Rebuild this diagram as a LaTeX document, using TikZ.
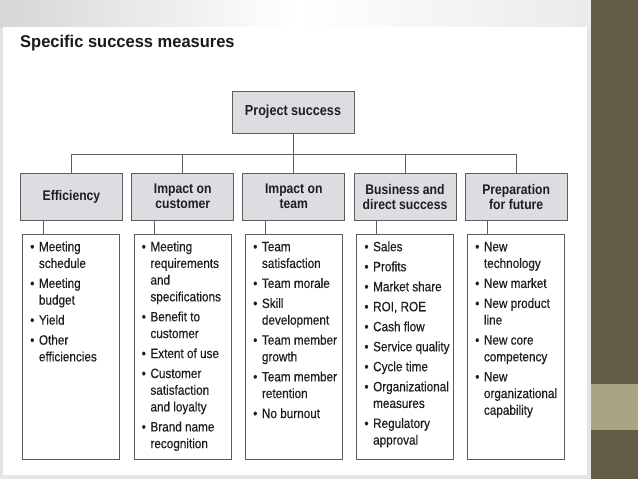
\documentclass[tikz,border=0pt]{standalone}
\usepackage{fontspec}
\setmainfont{Liberation Sans}
\newfontfamily\bodyfont[FakeStretch=0.87,FakeBold=0.35]{Liberation Sans}
\newfontfamily\hdrfont[FakeStretch=0.87]{Liberation Sans}
\newfontfamily\titlefont[FakeStretch=0.97]{Liberation Sans}
\usetikzlibrary{calc}
\definecolor{bandolive}{HTML}{635C46}
\definecolor{bandlight}{HTML}{A9A483}
\definecolor{boxfill}{HTML}{DCDDE1}
\definecolor{linegray}{HTML}{5E5E5E}
\definecolor{txt}{HTML}{1E1E1E}
\begin{document}
\begin{tikzpicture}[x=1pt,y=-1pt,
  hdr/.style={draw=linegray, line width=0.9pt, fill=boxfill, minimum width=102pt, minimum height=47pt, inner sep=0pt, align=center, text=txt, font=\hdrfont\bfseries\fontsize{14}{15}\selectfont},
  detbox/.style={draw=linegray, line width=0.9pt, fill=white, minimum width=97pt, minimum height=224.3pt, inner sep=0pt},
  dettext/.style={anchor=base west, inner sep=0pt, text=txt, font=\bodyfont\fontsize{13.5}{16.7}\selectfont},
  conn/.style={draw=linegray, line width=0.9pt}]
\useasboundingbox (0,0) rectangle (638,479);
% background
\fill[black!10] (0,0) rectangle (638,479);
\shade[left color=black!16, right color=black!8, middle color=white] (0,0) rectangle (591,27);
\fill[white] (3,27) rectangle (587,475);
\fill[bandolive] (590.7,0) rectangle (638,479);
\fill[bandlight] (590.7,384) rectangle (638,430);
% title
\node[anchor=base west, inner sep=0pt, text=black!90, font=\titlefont\bfseries\fontsize{17}{20}\selectfont] (title) at (20,47.3) {Specific success measures};
% root
\node[hdr, minimum width=122pt, minimum height=42pt, font=\hdrfont\bfseries\fontsize{14.5}{16}\selectfont] (ps) at (293,112) {Project success};
% headers
\node[hdr] (e1) at (71.5,196.5) {Efficiency};
\node[hdr] (e2) at (182.7,196.5) {Impact on\\customer};
\node[hdr] (e3) at (293.8,196.5) {Impact on\\team};
\node[hdr] (e4) at (405,196.5) {Business and\\direct success};
\node[hdr] (e5) at (516.2,196.5) {Preparation\\for future};
% bus
\coordinate (bus) at (293,154);
\draw[conn] (ps.south) -- (bus);
\draw[conn] (e1.north |- bus) -- (e5.north |- bus);
\foreach \i in {1,...,5} \draw[conn] (e\i.north) -- (e\i.north |- bus);
% detail boxes
\node[detbox] (d1) at (71,346.85) {};
\node[detbox] (d2) at (182.5,346.85) {};
\node[detbox] (d3) at (294,346.85) {};
\node[detbox] (d4) at (405.2,346.85) {};
\node[detbox] (d5) at (516,346.85) {};
\foreach \i in {1,...,5} \draw[conn] ([xshift=-28.5pt]e\i.south) -- ([xshift=-28.5pt]e\i.south |- d\i.north);
% texts
\node[dettext] (t1) at ($(d1.north west)+(8,17)$) {\begin{tabular}[t]{@{}l@{\hspace{4.6pt}}l@{}}
\textbullet & Meeting\\ & schedule\\[3.3pt]
\textbullet & Meeting\\ & budget\\[3.3pt]
\textbullet & Yield\\[3.3pt]
\textbullet & Other\\ & efficiencies
\end{tabular}};
\node[dettext] (t2) at ($(d2.north west)+(8,17)$) {\begin{tabular}[t]{@{}l@{\hspace{4.6pt}}l@{}}
\textbullet & Meeting\\ & requirements\\ & and\\ & specifications\\[3.3pt]
\textbullet & Benefit to\\ & customer\\[3.3pt]
\textbullet & Extent of use\\[3.3pt]
\textbullet & Customer\\ & satisfaction\\ & and loyalty\\[3.3pt]
\textbullet & Brand name\\ & recognition
\end{tabular}};
\node[dettext] (t3) at ($(d3.north west)+(8,17)$) {\begin{tabular}[t]{@{}l@{\hspace{4.6pt}}l@{}}
\textbullet & Team\\ & satisfaction\\[3.3pt]
\textbullet & Team morale\\[3.3pt]
\textbullet & Skill\\ & development\\[3.3pt]
\textbullet & Team member\\ & growth\\[3.3pt]
\textbullet & Team member\\ & retention\\[3.3pt]
\textbullet & No burnout
\end{tabular}};
\node[dettext] (t4) at ($(d4.north west)+(8,17)$) {\begin{tabular}[t]{@{}l@{\hspace{4.6pt}}l@{}}
\textbullet & Sales\\[3.3pt]
\textbullet & Profits\\[3.3pt]
\textbullet & Market share\\[3.3pt]
\textbullet & ROI, ROE\\[3.3pt]
\textbullet & Cash flow\\[3.3pt]
\textbullet & Service quality\\[3.3pt]
\textbullet & Cycle time\\[3.3pt]
\textbullet & Organizational\\ & measures\\[3.3pt]
\textbullet & Regulatory\\ & approval
\end{tabular}};
\node[dettext] (t5) at ($(d5.north west)+(8,17)$) {\begin{tabular}[t]{@{}l@{\hspace{4.6pt}}l@{}}
\textbullet & New\\ & technology\\[3.3pt]
\textbullet & New market\\[3.3pt]
\textbullet & New product\\ & line\\[3.3pt]
\textbullet & New core\\ & competency\\[3.3pt]
\textbullet & New\\ & organizational\\ & capability
\end{tabular}};
\end{tikzpicture}
\end{document}
